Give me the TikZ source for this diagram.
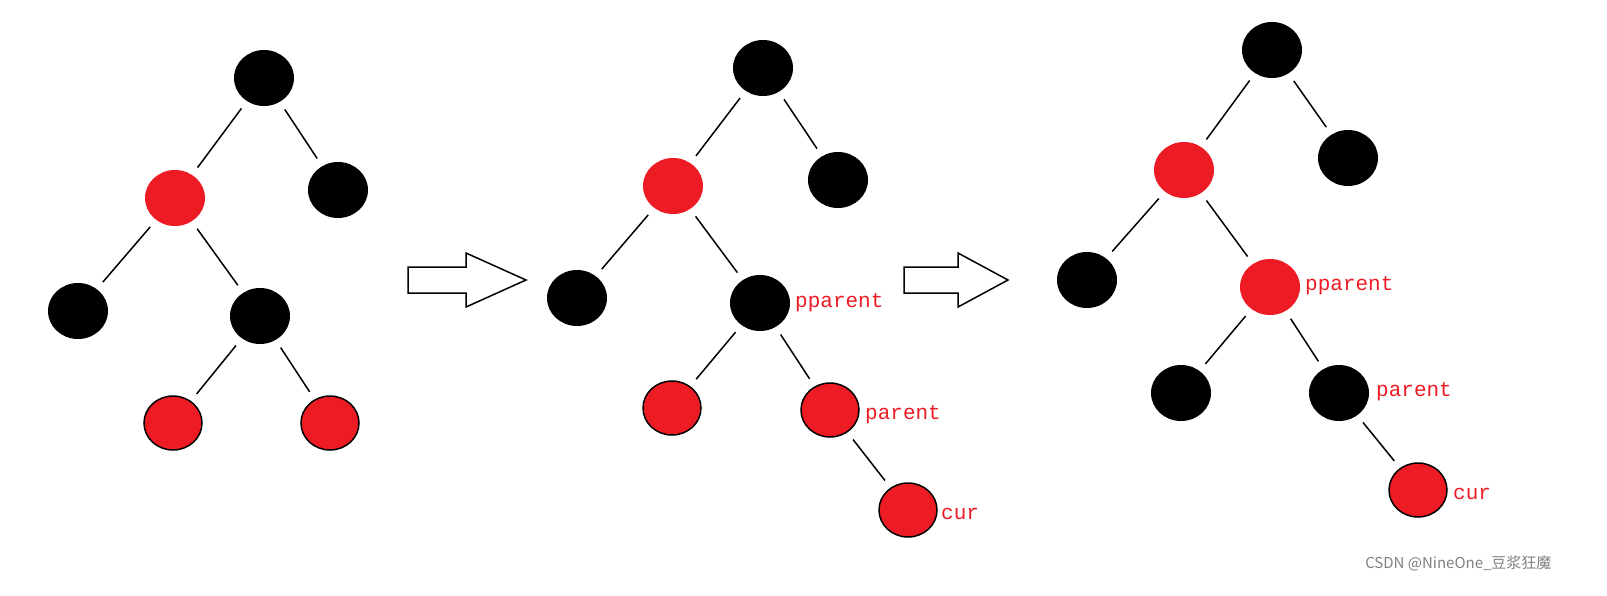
\documentclass[tikz,border=0pt]{standalone}
\usepackage{fontspec}
\setmonofont{Liberation Mono}
\newfontfamily\cjk{Noto Sans CJK SC}
\usetikzlibrary{shapes.geometric}
\definecolor{rbred}{RGB}{237,28,36}
\tikzset{
  bn/.style={ellipse,fill=black,minimum width=60pt,minimum height=56pt,inner sep=0},
  rn/.style={ellipse,fill=rbred,minimum width=60pt,minimum height=56pt,inner sep=0},
  ro/.style={ellipse,fill=rbred,draw=black,line width=1.5pt,minimum width=58pt,minimum height=54pt,inner sep=0},
  ed/.style={line width=1.5pt,shorten >=9pt,shorten <=9pt},
  lab/.style={text=rbred,font=\ttfamily\fontsize{21}{21}\selectfont,anchor=west,inner sep=0},
  blk/.style={draw=black,line width=1.5pt,fill=white}
}
\begin{document}
\begin{tikzpicture}[x=1pt,y=-1pt]
\useasboundingbox (0,0) rectangle (1607,595);
% tree 1
\node[bn] (a1) at (264,78) {};
\node[rn] (a2) at (175,198) {};
\node[bn] (a3) at (338,190) {};
\node[bn] (a4) at (78,311) {};
\node[bn] (a5) at (260,316) {};
\node[ro] (a6) at (173,423) {};
\node[ro] (a7) at (330,423) {};
\draw[ed] (a1)--(a2); \draw[ed] (a1)--(a3); \draw[ed] (a2)--(a4); \draw[ed] (a2)--(a5);
\draw[ed] (a5)--(a6); \draw[ed] (a5)--(a7);
% arrow 1
\draw[blk] (408,267)--(466,267)--(466,253)--(526,280)--(466,307)--(466,293)--(408,293)--cycle;
% tree 2
\node[bn] (b1) at (763,68) {};
\node[rn] (b2) at (673,186) {};
\node[bn] (b3) at (838,180) {};
\node[bn] (b4) at (577,298) {};
\node[bn] (b5) at (760,303) {};
\node[ro] (b6) at (672,408) {};
\node[ro] (b7) at (830,410) {};
\node[ro] (b8) at (908,510) {};
\draw[ed] (b1)--(b2); \draw[ed] (b1)--(b3); \draw[ed] (b2)--(b4); \draw[ed] (b2)--(b5);
\draw[ed] (b5)--(b6); \draw[ed] (b5)--(b7); \draw[ed] (b7)--(b8);
\node[lab] (lb5) at (795,303) {pparent};
\node[lab] (lb7) at (865,415) {parent};
\node[lab] (lb8) at (941,514) {cur};
% arrow 2
\draw[blk] (904,267)--(958,267)--(958,253)--(1008,280)--(958,307)--(958,293)--(904,293)--cycle;
% tree 3
\node[bn] (c1) at (1272,50) {};
\node[rn] (c2) at (1184,170) {};
\node[bn] (c3) at (1348,158) {};
\node[bn] (c4) at (1087,280) {};
\node[rn] (c5) at (1270,287) {};
\node[bn] (c6) at (1181,393) {};
\node[bn] (c7) at (1339,393) {};
\node[ro] (c8) at (1418,490) {};
\draw[ed] (c1)--(c2); \draw[ed] (c1)--(c3); \draw[ed] (c2)--(c4); \draw[ed] (c2)--(c5);
\draw[ed] (c5)--(c6); \draw[ed] (c5)--(c7); \draw[ed] (c7)--(c8);
\node[lab] (lc5) at (1305,286) {pparent};
\node[lab] (lc7) at (1376,392) {parent};
\node[lab] (lc8) at (1453,494) {cur};
% watermark
\node[anchor=east,text=gray,font=\cjk\fontsize{15}{15}\selectfont] (wm) at (1555,563) {CSDN @NineOne\_豆浆狂魔};
\end{tikzpicture}
\end{document}
